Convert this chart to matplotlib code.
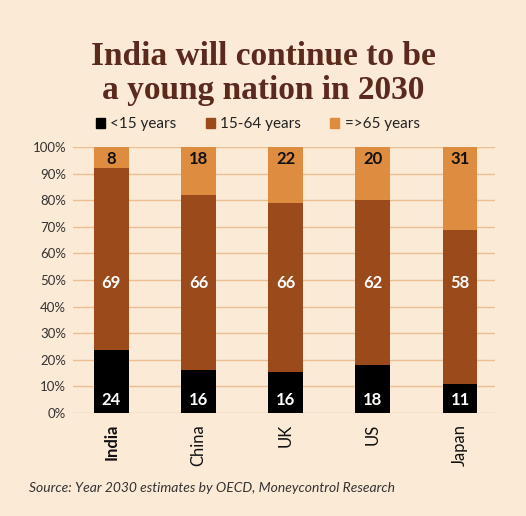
import matplotlib
matplotlib.use("Agg")
import matplotlib.pyplot as plt
import numpy as np
from matplotlib.patches import Patch

countries = ["India", "China", "UK", "US", "Japan"]
under15 = [24, 16, 16, 18, 11]
age15_64 = [69, 66, 66, 62, 58]
over65 = [8, 18, 22, 20, 31]
series_names = ["<15 years", "15-64 years", "=>65 years"]
yticks = [0, 10, 20, 30, 40, 50, 60, 70, 80, 90, 100]

BG = "#FBEAD6"
C_BLACK = "#000000"
C_BROWN = "#9B4A1B"
C_ORANGE = "#DE8C3F"
GRID = "#EBBF91"

fig = plt.figure(figsize=(5.26, 5.16), dpi=100, facecolor=BG)
ax = fig.add_axes([0.1388, 0.1996, 0.802, 0.5154])
ax.set_facecolor(BG)

a = np.array(under15, float)
b = np.array(age15_64, float)
c = np.array(over65, float)
tot = a + b + c
pa, pb, pc = a / tot * 100, b / tot * 100, c / tot * 100
x = np.arange(len(countries))
w = 0.40
ax.bar(x, pa, w, color=C_BLACK, zorder=3)
ax.bar(x, pb, w, bottom=pa, color=C_BROWN, zorder=3)
ax.bar(x, pc, w, bottom=pa + pb, color=C_ORANGE, zorder=3)

for i in range(len(countries)):
    ax.text(x[i], 4.9, str(under15[i]), ha="center", va="center", color="white",
            fontsize=12, fontweight="bold", family="Lato", zorder=4)
    ax.text(x[i], 49, str(age15_64[i]), ha="center", va="center", color="white",
            fontsize=12, fontweight="bold", family="Lato", zorder=4)
    ax.text(x[i], 95.4, str(over65[i]), ha="center", va="center", color="#111111",
            fontsize=12, fontweight="bold", family="Lato", zorder=4)

ax.set_xlim(-0.44, 4.40)
ax.set_ylim(0, 100)
ax.set_yticks(yticks)
ax.set_yticklabels([f"{t}%" for t in yticks], fontsize=9.5, color="#333333", family="Lato")
ax.yaxis.grid(True, color=GRID, linewidth=1.0, zorder=0)
ax.set_xticks(x)
ax.set_xticklabels(countries, rotation=90, fontsize=12, color="#111111", family="Lato")
ax.get_xticklabels()[0].set_fontweight("bold")
ax.tick_params(axis="both", length=0)
ax.tick_params(axis="y", pad=5)
ax.tick_params(axis="x", pad=8)
for s in ax.spines.values():
    s.set_visible(False)

fig.text(0.5, 0.891, "India will continue to be", ha="center", va="center",
         fontsize=24, fontweight="bold", family="Liberation Serif", color="#5B2A1D")
fig.text(0.5, 0.824, "a young nation in 2030", ha="center", va="center",
         fontsize=24, fontweight="bold", family="Liberation Serif", color="#5B2A1D")

handles = [Patch(color=C_BLACK), Patch(color=C_BROWN), Patch(color=C_ORANGE)]
leg = fig.legend(handles, series_names, loc="center", bbox_to_anchor=(0.49, 0.759),
                 ncol=3, frameon=False, handlelength=0.6, handleheight=0.6,
                 handletextpad=0.35, columnspacing=1.9, prop={"family": "Lato", "size": 11})
for t in leg.get_texts():
    t.set_color("#222222")

fig.text(0.055, 0.054, "Source: Year 2030 estimates by OECD, Moneycontrol Research",
         ha="left", va="center", fontsize=10, style="italic", family="Lato", color="#333333")

fig.savefig("out.png", dpi=100, facecolor=BG)
